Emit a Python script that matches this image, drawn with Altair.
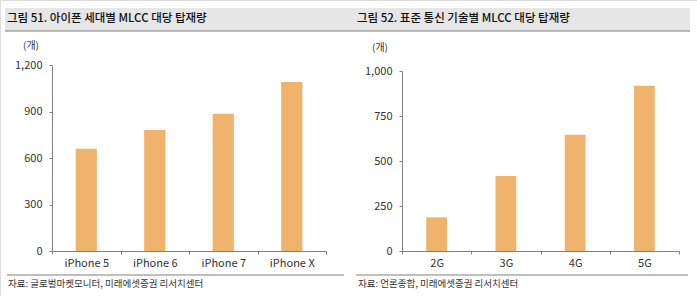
import altair as alt
import pandas as pd

# ---- data ----
left_cats = ["iPhone 5", "iPhone 6", "iPhone 7", "iPhone X"]
left_vals = [660, 780, 885, 1090]
right_cats = ["2G", "3G", "4G", "5G"]
right_vals = [187, 417, 646, 918]
left_ticks = [0, 300, 600, 900, 1200]
right_ticks = [0, 250, 500, 750, 1000]

left_title = "그림 51. 아이폰 세대별 MLCC 대당 탑재량"
right_title = "그림 52. 표준 통신 기술별 MLCC 대당 탑재량"
left_source = "자료: 글로벌마켓모니터, 미래에셋증권 리서치센터"
right_source = "자료: 언론종합, 미래에셋증권 리서치센터"
unit = "(개)"

FONT = "Noto Sans CJK KR"
BAR = "#F0B36B"
AXIS = "#808080"
TXT = "#333333"

one = pd.DataFrame({"k": [0]})
left_df = pd.DataFrame({"cat": left_cats, "val": left_vals})
right_df = pd.DataFrame({"cat": right_cats, "val": right_vals})


def txt(s, x, y, size=10, align="left", weight="normal", color=TXT):
    return alt.Chart(one).mark_text(
        text=s, font=FONT, fontSize=size, align=align, baseline="middle",
        fontWeight=weight, color=color
    ).encode(x=alt.value(x), y=alt.value(y))


def hline(x1, x2, y, color=AXIS):
    return alt.Chart(one).mark_rule(color=color, strokeWidth=1).encode(
        x=alt.value(x1), x2=alt.value(x2), y=alt.value(y))


band = alt.Chart(one).mark_rect(color="#E6E6E6").encode(
    x=alt.value(5), x2=alt.value(690), y=alt.value(8), y2=alt.value(31))


def axis_x(offset):
    return alt.Axis(orient="bottom", offset=offset, title=None, labelFont=FONT,
                    labelFontSize=11, labelColor=TXT, domainColor=AXIS, tickColor=AXIS,
                    tickSize=3, tickBand="extent", labelPadding=3, labelAngle=0,
                    grid=False)


def axis_y(offset, ticks):
    return alt.Axis(orient="left", offset=offset, title=None, values=ticks, format=",d",
                    labelFont=FONT, labelFontSize=11, labelColor=TXT, domainColor=AXIS,
                    tickColor=AXIS, tickSize=3, labelPadding=7, grid=False)


left_bars = alt.Chart(left_df).mark_bar(color=BAR, width=alt.RelativeBandSize(0.31)).encode(
    x=alt.X("cat:N", sort=left_cats,
            scale=alt.Scale(range=[52, 326], paddingInner=0, paddingOuter=0),
            axis=axis_x(-45)),
    y=alt.Y("val:Q", scale=alt.Scale(domain=[0, 1200], range=[251, 65], nice=False),
            axis=axis_y(-52, left_ticks)),
)

right_bars = alt.Chart(right_df).mark_bar(color=BAR, width=alt.RelativeBandSize(0.30)).encode(
    x=alt.X("cat:N", sort=right_cats,
            scale=alt.Scale(range=[402, 679], paddingInner=0, paddingOuter=0),
            axis=axis_x(-45)),
    y=alt.Y("val:Q", scale=alt.Scale(domain=[0, 1000], range=[251, 71], nice=False),
            axis=axis_y(-402, right_ticks)),
)

chart = alt.layer(
    band,
    hline(5, 690, 31),
    txt(left_title, 7, 19, size=11.5, weight=500, color="#111111"),
    txt(right_title, 357, 19, size=11.5, weight=500, color="#111111"),
    txt(unit, 31, 46, size=10, align="center"),
    txt(unit, 380, 48, size=10, align="center"),
    hline(7, 344, 275),
    hline(356, 688, 275),
    txt(left_source, 8, 284, size=9.5),
    txt(right_source, 358, 284, size=9.5),
    left_bars,
    right_bars,
).resolve_scale(x="independent", y="independent").resolve_axis(
    x="independent", y="independent"
).properties(
    width=697, height=296, autosize=alt.AutoSizeParams(type="none"), padding=0
).configure_view(stroke=None).configure(background="white")

chart.save("out.html", embed_options={"renderer": "svg", "actions": False})
